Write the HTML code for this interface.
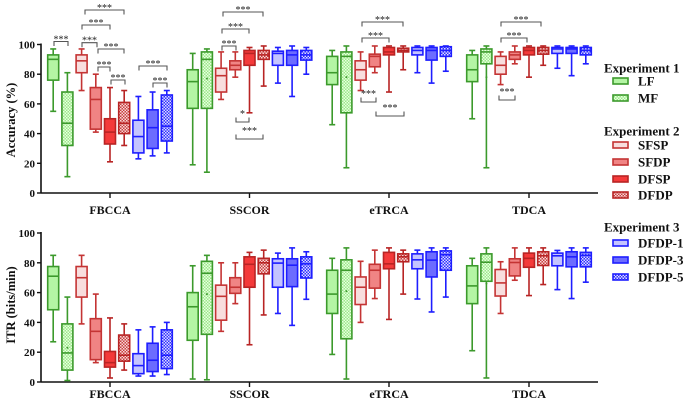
<!DOCTYPE html>
<html><head><meta charset="utf-8">
<style>
html,body{margin:0;padding:0;background:#fff;}
svg{display:block;font-family:"Liberation Serif",serif;font-weight:bold;}
</style></head>
<body>
<svg id="chart" width="685" height="402" viewBox="0 0 685 402" xmlns="http://www.w3.org/2000/svg">
<defs>
<pattern id="chkG" width="3" height="3" patternUnits="userSpaceOnUse"><rect width="3" height="3" fill="#9be88a"/><rect width="1.5" height="1.5" fill="#e8ffe0"/><rect x="1.5" y="1.5" width="1.5" height="1.5" fill="#e8ffe0"/></pattern>
<pattern id="chkR" width="3" height="3" patternUnits="userSpaceOnUse"><rect width="3" height="3" fill="#c84040"/><rect width="1.5" height="1.5" fill="#f7d8d8"/><rect x="1.5" y="1.5" width="1.5" height="1.5" fill="#f7d8d8"/></pattern>
<pattern id="chkB" width="3" height="3" patternUnits="userSpaceOnUse"><rect width="3" height="3" fill="#3030ff"/><rect width="1.5" height="1.5" fill="#dcdcff"/><rect x="1.5" y="1.5" width="1.5" height="1.5" fill="#dcdcff"/></pattern>
</defs>
</svg>
<script>
const algorithms = ["FBCCA","SSCOR","eTRCA","TDCA"];
const conditions = ["LF","MF","SFSP","SFDP","DFSP","DFDP","DFDP-1","DFDP-3","DFDP-5"];
// each box: [min, q1, median, q3, max]
const accFBCCA = [[55,76,90,93,97],[11,32,47,68,81],[69,81,89,93,97],[41,43,63,71,80],[21,33,41,50,71],[32,40,47,61,69],[23,27,38,49,65],[25,30,44,56,68],[27,35,45,66,69]];
const accSSCOR = [[19,57,75,83,94],[14,57,90,95,97],[63,68,79,84,95],[78,83,86,89,95],[54,86,94,96,98],[72,90,93,96,99],[74,86,94,95.5,98],[65,86,93,96,99],[80,89.5,93,96,98]];
const accETRCA = [[46,73,81,92,96],[17,54,92,95,99],[69,76,83,89,95],[81,85,92,93.5,99],[68,93,95,98,99],[83,95,96,97.5,99],[81,93,96,98,99],[74,89.5,96,98,99],[82,92,96,98.5,99]];
const accTDCA = [[50,75,83,93,96],[17,87,95,97,99],[73,80,86,92,95],[87,90,93,95,99],[78,93,96,98,99],[86,93.5,96,98,99],[84,94,97,98,99],[79,94,97,98,99],[87,93,96,98,99]];
const itrFBCCA = [[27,48.5,71,77.5,85],[1,8,19.5,39,57],[39,57,70,77.5,85],[13,15,34,42.5,59],[2.7,10,13,20.5,43],[8,14,18,31.5,39],[4,5.6,11,19,35],[4,7,14.6,26,37],[5,9,18,35,40]];
const itrSSCOR = [[2,28,50.5,60,78],[1.5,32,73,81,85],[34,41.5,57.5,65,80],[52.6,59.5,63.6,70,80],[25,63.6,79,84,87],[45,72.6,80,83,88.5],[46,63.6,79.8,82.7,86.5],[38,64,78.4,82.7,90],[55.5,69.8,79.3,84,87.4]];
const itrETRCA = [[18.5,46,59,75,83],[2,29,75,82,90],[40,52,63.6,70.5,81],[56,63,75,79,88.5],[42,76,79.3,87,90],[59,80.7,84,86,88.5],[55.7,76,82,86,88.5],[47,70.5,81.8,87.4,90],[57,75,85.4,88,90]];
const itrTDCA = [[21,52.6,64.5,78,83],[2.7,67.6,80.4,86,90],[46,57.7,66.5,75.5,80.7],[68.3,71.2,80.2,82.7,90],[58,77,83,86.5,90],[65.4,78.2,84.7,87.4,90],[62,78,84.7,86.5,88.3],[56,77.3,84,87.4,90],[67,77.3,85,87,90]];
const mfMeanAcc = [null,77,78,78];
const mfMeanItr = [23,59,61,66];
const yTicks = [0,20,40,60,80,100];

const NS="http://www.w3.org/2000/svg";
const svg=document.getElementById('chart');
function el(tag,attrs,parent){const e=document.createElementNS(NS,tag);for(const k in attrs)e.setAttribute(k,attrs[k]);(parent||svg).appendChild(e);return e;}
const styles=[
 {fill:"#b4f5a4",stroke:"#3c9a2c"},{fill:"url(#chkG)",stroke:"#3c9a2c"},
 {fill:"#f8dede",stroke:"#c43434"},{fill:"#f08484",stroke:"#c43434"},
 {fill:"#f43a3a",stroke:"#b82424"},{fill:"url(#chkR)",stroke:"#b82424"},
 {fill:"#c4c4ff",stroke:"#1e1eff"},{fill:"#6c6cff",stroke:"#1e1eff"},
 {fill:"url(#chkB)",stroke:"#1e1eff"}];
const xAxisL=41,xAxisR=598,groupX=[110,249.5,389,529],step=14.2,bw=11;
function xPos(g,i){return groupX[g]+(i-4)*step;}

function panel(name,y0,y100,data,means,ylabel,ycenter,catY){
 const g=el('g',{});  
 const ys=v=>y0-(v/100)*(y0-y100);
 // axes
 const ax=el('line',{x1:xAxisL,y1:y100-1,x2:xAxisL,y2:y0,stroke:"#111","stroke-width":1.6},g);
  
 const bx=el('line',{x1:xAxisL,y1:y0,x2:xAxisR,y2:y0,stroke:"#111","stroke-width":1.6},g);
  
 yTicks.forEach(t=>{
  el('line',{x1:xAxisL-4,x2:xAxisL,y1:ys(t),y2:ys(t),stroke:"#111","stroke-width":1.4},g);
  const tx=el('text',{x:xAxisL-6,y:ys(t)+4,"text-anchor":"end","font-size":11,fill:"#111"},g);
  tx.textContent=t;
   
 });
 const yl=el('text',{x:0,y:0,"text-anchor":"middle","font-size":12.5,fill:"#111",transform:`translate(15,${ycenter}) rotate(-90)`},g);
 yl.textContent=ylabel;
  
 algorithms.forEach((a,gi)=>{
  el('line',{x1:groupX[gi],x2:groupX[gi],y1:y0,y2:y0+5,stroke:"#111","stroke-width":1.4},g);
  const t=el('text',{x:groupX[gi],y:catY,"text-anchor":"middle","font-size":12,fill:"#111"},g);
  t.textContent=a;
   
  data[gi].forEach((b,i)=>{
   const x=xPos(gi,i),s=styles[i];
   const bg=el('g',{stroke:s.stroke,"stroke-width":1.6,fill:"none"},g);
   
   
   el('line',{x1:x,x2:x,y1:ys(b[4]),y2:ys(b[3])},bg);
   el('line',{x1:x,x2:x,y1:ys(b[1]),y2:ys(b[0])},bg);
   el('line',{x1:x-3,x2:x+3,y1:ys(b[4]),y2:ys(b[4])},bg);
   el('line',{x1:x-3,x2:x+3,y1:ys(b[0]),y2:ys(b[0])},bg);
   el('rect',{x:x-bw/2,y:ys(b[3]),width:bw,height:Math.max(1,ys(b[1])-ys(b[3])),fill:s.fill},bg);
   el('line',{x1:x-bw/2,x2:x+bw/2,y1:ys(b[2]),y2:ys(b[2])},bg);
  });
  if(means[gi]!=null){
   const m=el('circle',{cx:xPos(gi,1),cy:ys(means[gi]),r:1,fill:"#3c9a2c"},g);
    
  }
 });
}
panel('accuracy-panel',193,44.5,[accFBCCA,accSSCOR,accETRCA,accTDCA],mfMeanAcc,'Accuracy (%)',120,214);
panel('itr-panel',382,233,[itrFBCCA,itrSSCOR,itrETRCA,itrTDCA],mfMeanItr,'ITR (bits/min)',305,398);

// significance brackets: [x1,x2,yLine,label,dir] dir=1 hooks down, -1 hooks up
const sigs=[[54,68,41.5,"***",1],[82,97,42.7,"***",1],[82,110,25,"***",1],[85,124,10,"***",1],[98,124,49,"***",1],[98,110,67,"***",1],[111,125,80,"***",1],[139,167,66,"***",1],[153,167,83,"***",1],
[222,236,46,"***",1],[222,249,29,"***",1],[223,263,12,"***",1],[236,249,122,"*",-1],[236,263,139,"***",-1],
[362,389,38,"***",1],[362,403,22,"***",1],[361,376,102,"***",-1],[376,404,116,"***",-1],
[501,527,38,"***",1],[501,541,22,"***",1],[499,515,100,"***",-1]];
sigs.forEach(s=>{
 const g=el('g',{});
 
 
 const h=4.5*s[4];
 el('path',{d:`M${s[0]},${s[2]+h}V${s[2]}H${s[1]}V${s[2]+h}`,stroke:"#555","stroke-width":1.1,fill:"none"},g);
 const ty=s[4]===1?s[2]-3:s[2]-9;
 const t=el('text',{x:(s[0]+s[1])/2,y:ty+4,"text-anchor":"middle","font-size":10,fill:"#222","font-weight":"normal"},g);
 t.textContent=s[3];
});

// legend
const legend=[["Experiment 1",68,null],["LF",81,0],["MF",98,1],["Experiment 2",131,null],["SFSP",145,2],["SFDP",162,3],["DFSP",179,4],["DFDP",195,5],["Experiment 3",227,null],["DFDP-1",243,6],["DFDP-3",260,7],["DFDP-5",277,8]];
const lg=el('g',{});


legend.forEach(l=>{
 if(l[2]===null){
  const t=el('text',{x:604,y:l[1]+4.5,"font-size":13,fill:"#111"},lg);
  t.textContent=l[0];
  
  
 } else {
  const s=styles[l[2]];
  const e=el('g',{},lg);
  
  
  el('rect',{x:613,y:l[1]-3,width:15,height:6,fill:s.fill,stroke:s.stroke,"stroke-width":1.6},e);
  const t=el('text',{x:638,y:l[1]+4.5,"font-size":13,fill:"#111"},e);
  t.textContent=l[0];
 }
});
</script>
</body></html>
